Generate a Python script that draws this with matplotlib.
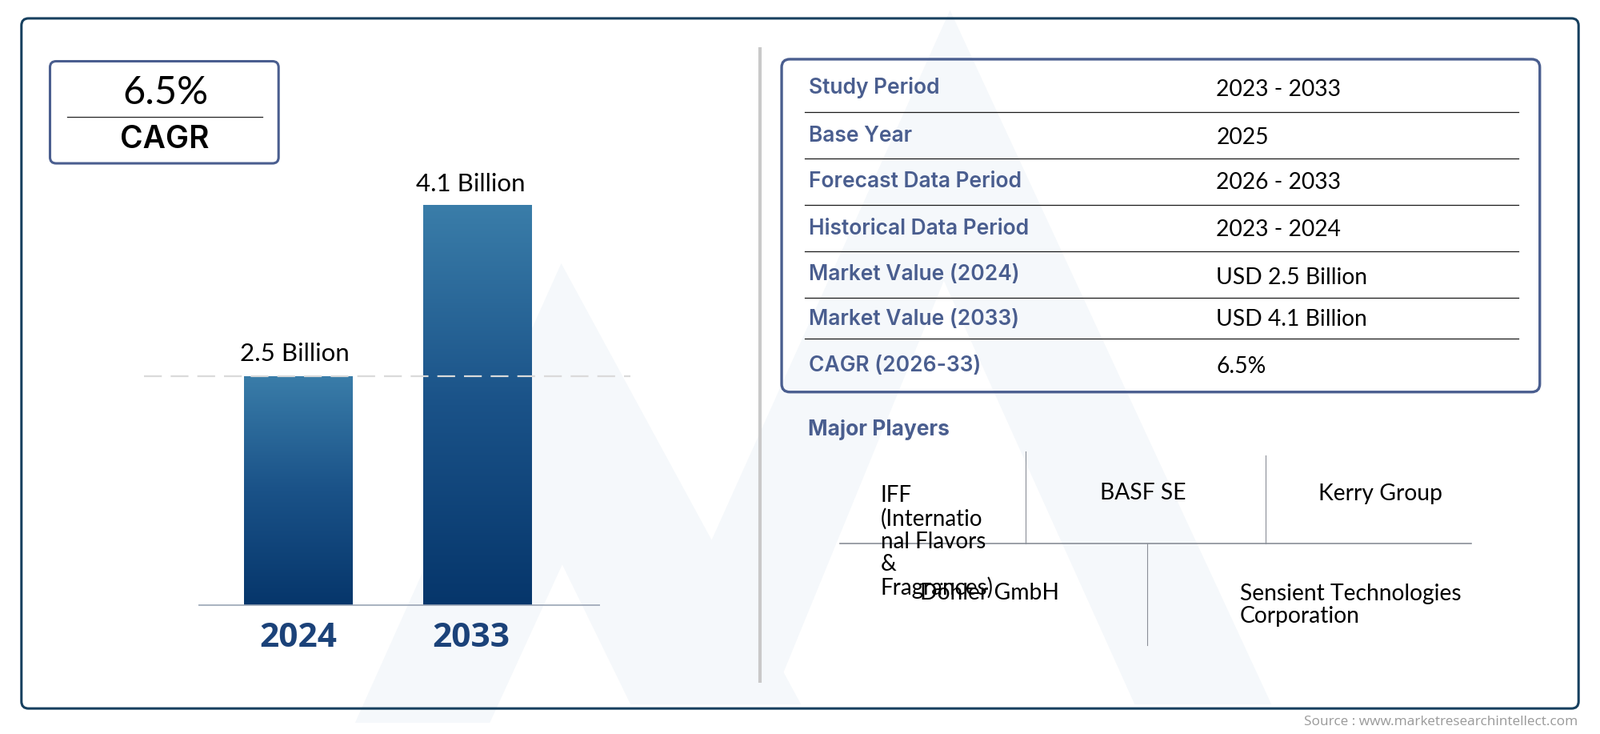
import numpy as np
import matplotlib
matplotlib.use("Agg")
import matplotlib.pyplot as plt
from matplotlib.patches import FancyBboxPatch, Polygon
from matplotlib.colors import LinearSegmentedColormap
from matplotlib.transforms import ScaledTranslation

# ---- data ----
years = ["2024", "2033"]
bar_heights = [2.35, 4.1]           # heights as drawn in the picture
bar_labels = ["2.5 Billion", "4.1 Billion"]
cagr_value = "6.5%"
cagr_label = "CAGR"
table_keys = ["Study Period", "Base Year", "Forecast Data Period", "Historical Data Period",
              "Market Value (2024)", "Market Value (2033)", "CAGR (2026-33)"]
table_vals = ["2023 - 2033", "2025", "2026 - 2033", "2023 - 2024",
              "USD 2.5 Billion", "USD 4.1 Billion", "6.5%"]
players_title = "Major Players"
iff_name = "IFF\n(Internatio\nnal Flavors\n&\nFragrances)"
players_center = ["BASF SE", "Kerry Group", "Döhler GmbH"]
sensient_name = "Sensient Technologies\nCorporation"
source = "Source : www.marketresearchintellect.com"

# ---- style ----
NAVY = "#17405F"
BLUE = "#4A5E8F"
SERIF_VAL = "Lato"
HEAD = "Inter"
W, H = 1568, 719

fig = plt.figure(figsize=(20, 9.17), dpi=100, facecolor="white")

def overlay(z):
    a = fig.add_axes([0, 0, 1, 1], zorder=z)
    a.set_xlim(0, W)
    a.set_ylim(H, 0)
    a.axis("off")
    return a

bg = overlay(0)
top = overlay(2)

# watermark
WM = "#F5F8FB"
bg.add_patch(Polygon([(550, 258), (785, 690), (618, 690), (551, 553), (480, 708), (348, 708)], fc=WM, ec="none"))
bg.add_patch(Polygon([(931, 10), (1246, 690), (1112, 690), (925, 275), (755, 690), (625, 690)], fc=WM, ec="none"))

# frame
bg.add_patch(FancyBboxPatch((21, 18), 1526, 676, boxstyle="round,pad=0,rounding_size=7",
                            fc="none", ec=NAVY, lw=2.2))

# bars
left_px, right_px = 141, 618
bottom_px, top_px = 593, 201
ax = fig.add_axes([left_px / W, 1 - bottom_px / H, (right_px - left_px) / W, (bottom_px - top_px) / H], zorder=1)
ax.patch.set_alpha(0)
x = np.arange(len(years))
width = 0.605
xlim = (-0.865, 1.861)
cmap = LinearSegmentedColormap.from_list("bar", ["#06366B", "#1A5288", "#3A7DA9"])
grad = np.linspace(1, 0, 256).reshape(-1, 1)
bars = ax.bar(x, bar_heights, width=width, color="#1A5288", zorder=2)
for b in bars:
    im = ax.imshow(grad, cmap=cmap, aspect="auto", zorder=3,
                   extent=[b.get_x(), b.get_x() + b.get_width(), 0, b.get_height()])
    im.set_clip_path(b)
ax.set_xlim(*xlim)
ax.set_ylim(0, max(bar_heights))
for s in ax.spines.values():
    s.set_visible(False)
ax.yaxis.set_visible(False)
ax.hlines(0, -0.56, 1.69, color="#9AA5B5", lw=1.2, zorder=4, clip_on=False)
ax.hlines(bar_heights[0], *xlim, color="#DADADA", lw=1.6, linestyles=(0, (10, 5)), zorder=5, clip_on=False)
ax.set_xticks(x)
ax.set_xticklabels(years, fontfamily="Open Sans", fontweight="bold", fontsize=30.5, color="#1B4279")
ax.tick_params(axis="x", length=0, pad=15)
for lab, dx in zip(ax.get_xticklabels(), [0, -5]):
    lab.set_transform(lab.get_transform() + ScaledTranslation(dx / 72, 0, fig.dpi_scale_trans))
for i, (h, lab, dx, dy) in enumerate(zip(bar_heights, bar_labels, [-3, -6], [10, 9])):
    ax.annotate(lab, (i, h), xytext=(dx, dy), textcoords="offset points", ha="center", va="bottom",
                fontfamily=SERIF_VAL, fontsize=22.5, color="black", annotation_clip=False)

# CAGR box
top.add_patch(FancyBboxPatch((49, 60), 224, 100, boxstyle="round,pad=0,rounding_size=6",
                             fc="none", ec=BLUE, lw=2.2))
top.plot([66, 257], [114.5, 114.5], color="#222222", lw=0.9)
top.text(162, 91, cagr_value, ha="center", va="center", fontfamily=SERIF_VAL, fontsize=35, color="black")
top.text(161, 137, cagr_label, ha="center", va="center", fontfamily=HEAD, fontweight="semibold", fontsize=28, color="black")

# divider
top.plot([745, 745], [46, 669], color="#C9C9C9", lw=3, solid_capstyle="butt")

# table
top.add_patch(FancyBboxPatch((766, 58), 743, 326, boxstyle="round,pad=0,rounding_size=8",
                             fc="none", ec=BLUE, lw=2.4))
key_y = [86, 133, 178, 224, 269, 313, 358]
val_y = [88, 135, 179, 225, 272, 313, 359]
for k, v, ky, vy in zip(table_keys, table_vals, key_y, val_y):
    top.text(793, ky, k, ha="left", va="center", fontfamily=HEAD, fontweight="semibold", fontsize=19, color=BLUE)
    top.text(1192, vy, v, ha="left", va="center", fontfamily=SERIF_VAL, fontsize=20.3, color="black")
for y in [110, 155, 201, 246, 292, 332]:
    top.plot([789, 1488], [y, y], color="#1A1A1A", lw=0.9)

# players
top.text(792, 421, players_title, ha="left", va="center", fontfamily=HEAD, fontweight="bold", fontsize=19, color=BLUE)
LINE = "#8A8F98"
top.plot([823, 1442], [532, 532], color=LINE, lw=1.2)
for xx, y0, y1 in [(1005, 442, 532), (1240, 446, 532), (1124, 532, 632)]:
    top.plot([xx, xx], [y0, y1], color=LINE, lw=0.8)
top.text(863, 531, iff_name, ha="left", va="center", fontfamily=SERIF_VAL, fontsize=20, color="black", linespacing=1.11)
for name, cx, cy in zip(players_center, [1120, 1353, 970], [483, 484, 581]):
    top.text(cx, cy, name, ha="center", va="center", fontfamily=SERIF_VAL, fontsize=20.3, color="black")
top.text(1215, 593, sensient_name, ha="left", va="center", fontfamily=SERIF_VAL, fontsize=20.3, color="black", linespacing=1.1)

top.text(1546, 707, source, ha="right", va="center", fontfamily="Open Sans", fontsize=12.4, color="#9A9A9A")

fig.savefig("out.png", dpi=100, facecolor="white")
